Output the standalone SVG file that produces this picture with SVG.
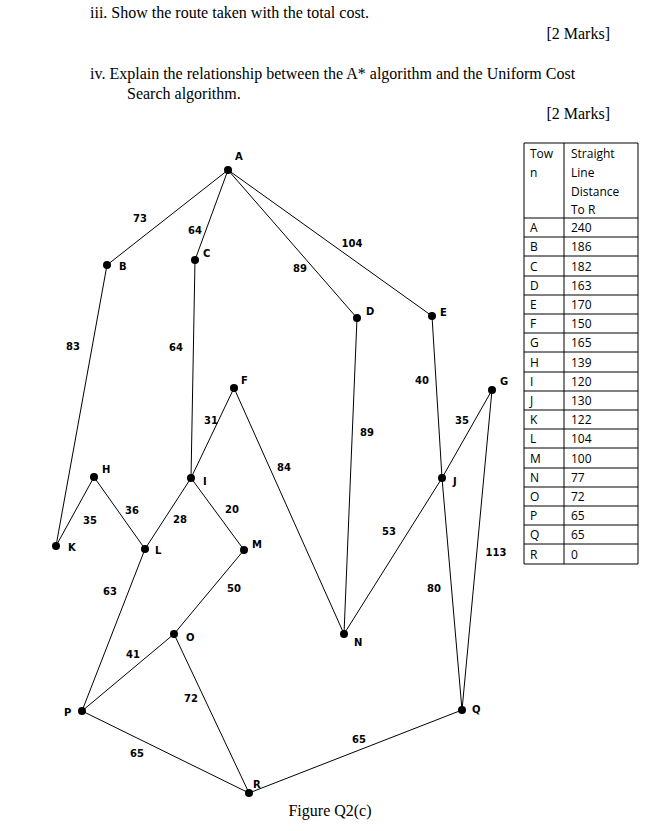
<svg xmlns="http://www.w3.org/2000/svg" width="648" height="831" viewBox="0 0 648 831">
<style>
.t{font-family:"Liberation Serif",serif;font-size:16px;fill:#000}
.n{font-family:"DejaVu Sans",sans-serif;font-size:10px;font-weight:bold;fill:#000}
.w{font-family:"DejaVu Sans",sans-serif;font-size:10px;font-weight:bold;fill:#000;text-anchor:middle}
.c{font-family:"Open Sans","DejaVu Sans",sans-serif;font-size:12px;fill:#000}
#edges line{stroke:#000;stroke-width:1}
.g line{stroke:#000;stroke-width:1}
</style>
<rect width="648" height="831" fill="#fff"/>
<text class="t" x="90" y="18">iii.  Show the route taken with the total cost.</text>
<text class="t" x="610" y="39" text-anchor="end">[2 Marks]</text>
<text class="t" x="90" y="79">iv.  Explain the relationship between the A* algorithm and the Uniform Cost</text>
<text class="t" x="127" y="99">Search algorithm.</text>
<text class="t" x="610" y="119" text-anchor="end">[2 Marks]</text>
<text class="t" x="330" y="816" text-anchor="middle">Figure Q2(c)</text>
<g id="edges">
<line x1="228" y1="170" x2="107" y2="265"/>
<line x1="228" y1="170" x2="195" y2="260"/>
<line x1="228" y1="170" x2="357" y2="318"/>
<line x1="228" y1="170" x2="432" y2="316"/>
<line x1="107" y1="265" x2="56" y2="546"/>
<line x1="195" y1="260" x2="191" y2="478"/>
<line x1="234" y1="388" x2="191" y2="478"/>
<line x1="234" y1="388" x2="344" y2="634"/>
<line x1="357" y1="318" x2="344" y2="634"/>
<line x1="432" y1="316" x2="442" y2="478"/>
<line x1="442" y1="478" x2="462" y2="710"/>
<line x1="492" y1="390" x2="442" y2="478"/>
<line x1="492" y1="390" x2="462" y2="710"/>
<line x1="442" y1="478" x2="344" y2="634"/>
<line x1="94" y1="477" x2="56" y2="546"/>
<line x1="94" y1="477" x2="145" y2="549"/>
<line x1="191" y1="478" x2="145" y2="549"/>
<line x1="191" y1="478" x2="244" y2="550"/>
<line x1="244" y1="550" x2="174" y2="634"/>
<line x1="145" y1="549" x2="82" y2="711"/>
<line x1="174" y1="634" x2="82" y2="711"/>
<line x1="174" y1="634" x2="249" y2="793"/>
<line x1="82" y1="711" x2="249" y2="793"/>
<line x1="462" y1="710" x2="249" y2="793"/>
</g>
<g id="weights">
<text class="w" x="140" y="222">73</text>
<text class="w" x="195" y="234">64</text>
<text class="w" x="300" y="272">89</text>
<text class="w" x="352" y="247">104</text>
<text class="w" x="73" y="350">83</text>
<text class="w" x="176" y="351">64</text>
<text class="w" x="211" y="424">31</text>
<text class="w" x="284" y="471">84</text>
<text class="w" x="367" y="436">89</text>
<text class="w" x="422" y="384">40</text>
<text class="w" x="462" y="424">35</text>
<text class="w" x="389" y="535">53</text>
<text class="w" x="434" y="592">80</text>
<text class="w" x="496" y="556">113</text>
<text class="w" x="90" y="524">35</text>
<text class="w" x="132" y="514">36</text>
<text class="w" x="180" y="523">28</text>
<text class="w" x="232" y="513">20</text>
<text class="w" x="110" y="595">63</text>
<text class="w" x="234" y="592">50</text>
<text class="w" x="133" y="658">41</text>
<text class="w" x="191" y="702">72</text>
<text class="w" x="137" y="757">65</text>
<text class="w" x="359" y="743">65</text>
</g>
<g id="A"><circle cx="228" cy="170" r="4"/><text class="n" x="235" y="160">A</text></g>
<g id="B"><circle cx="107" cy="265" r="4"/><text class="n" x="119" y="270">B</text></g>
<g id="C"><circle cx="195" cy="260" r="4"/><text class="n" x="203" y="257">C</text></g>
<g id="D"><circle cx="357" cy="318" r="4"/><text class="n" x="366" y="315">D</text></g>
<g id="E"><circle cx="432" cy="316" r="4"/><text class="n" x="440" y="316">E</text></g>
<g id="F"><circle cx="234" cy="388" r="4"/><text class="n" x="241" y="384">F</text></g>
<g id="G"><circle cx="492" cy="390" r="4"/><text class="n" x="500" y="385">G</text></g>
<g id="H"><circle cx="94" cy="477" r="4"/><text class="n" x="102" y="473">H</text></g>
<g id="I"><circle cx="191" cy="478" r="4"/><text class="n" x="203" y="485">I</text></g>
<g id="J"><circle cx="442" cy="478" r="4"/><text class="n" x="453" y="485">J</text></g>
<g id="K"><circle cx="56" cy="546" r="4"/><text class="n" x="68" y="551">K</text></g>
<g id="L"><circle cx="145" cy="549" r="4"/><text class="n" x="155" y="554">L</text></g>
<g id="M"><circle cx="244" cy="550" r="4"/><text class="n" x="252" y="548">M</text></g>
<g id="N"><circle cx="344" cy="634" r="4"/><text class="n" x="354" y="646">N</text></g>
<g id="O"><circle cx="174" cy="634" r="4"/><text class="n" x="186" y="641">O</text></g>
<g id="P"><circle cx="82" cy="711" r="4"/><text class="n" x="64" y="716">P</text></g>
<g id="Q"><circle cx="462" cy="710" r="4"/><text class="n" x="472" y="713">Q</text></g>
<g id="R"><circle cx="249" cy="793" r="4"/><text class="n" x="253" y="788">R</text></g>
<g id="table" class="g">
<line x1="524" y1="143" x2="524" y2="564"/>
<line x1="564" y1="143" x2="564" y2="564"/>
<line x1="638" y1="143" x2="638" y2="564"/>
<line x1="524" y1="143" x2="638" y2="143"/>
<line x1="524" y1="218" x2="638" y2="218"/>
<line x1="524" y1="237" x2="638" y2="237"/>
<line x1="524" y1="256" x2="638" y2="256"/>
<line x1="524" y1="276" x2="638" y2="276"/>
<line x1="524" y1="295" x2="638" y2="295"/>
<line x1="524" y1="314" x2="638" y2="314"/>
<line x1="524" y1="333" x2="638" y2="333"/>
<line x1="524" y1="352" x2="638" y2="352"/>
<line x1="524" y1="372" x2="638" y2="372"/>
<line x1="524" y1="391" x2="638" y2="391"/>
<line x1="524" y1="410" x2="638" y2="410"/>
<line x1="524" y1="429" x2="638" y2="429"/>
<line x1="524" y1="448" x2="638" y2="448"/>
<line x1="524" y1="468" x2="638" y2="468"/>
<line x1="524" y1="487" x2="638" y2="487"/>
<line x1="524" y1="506" x2="638" y2="506"/>
<line x1="524" y1="525" x2="638" y2="525"/>
<line x1="524" y1="544" x2="638" y2="544"/>
<line x1="524" y1="564" x2="638" y2="564"/>
<text class="c" x="530" y="158">Tow</text><text class="c" x="530" y="177">n</text>
<text class="c" x="571" y="158">Straight</text><text class="c" x="571" y="177">Line</text>
<text class="c" x="571" y="196">Distance</text><text class="c" x="571" y="214">To R</text>
<text class="c" x="530" y="232">A</text><text class="c" x="571" y="232">240</text>
<text class="c" x="530" y="251">B</text><text class="c" x="571" y="251">186</text>
<text class="c" x="530" y="271">C</text><text class="c" x="571" y="271">182</text>
<text class="c" x="530" y="290">D</text><text class="c" x="571" y="290">163</text>
<text class="c" x="530" y="309">E</text><text class="c" x="571" y="309">170</text>
<text class="c" x="530" y="328">F</text><text class="c" x="571" y="328">150</text>
<text class="c" x="530" y="347">G</text><text class="c" x="571" y="347">165</text>
<text class="c" x="530" y="367">H</text><text class="c" x="571" y="367">139</text>
<text class="c" x="530" y="386">I</text><text class="c" x="571" y="386">120</text>
<text class="c" x="530" y="405">J</text><text class="c" x="571" y="405">130</text>
<text class="c" x="530" y="424">K</text><text class="c" x="571" y="424">122</text>
<text class="c" x="530" y="443">L</text><text class="c" x="571" y="443">104</text>
<text class="c" x="530" y="463">M</text><text class="c" x="571" y="463">100</text>
<text class="c" x="530" y="482">N</text><text class="c" x="571" y="482">77</text>
<text class="c" x="530" y="501">O</text><text class="c" x="571" y="501">72</text>
<text class="c" x="530" y="520">P</text><text class="c" x="571" y="520">65</text>
<text class="c" x="530" y="539">Q</text><text class="c" x="571" y="539">65</text>
<text class="c" x="530" y="559">R</text><text class="c" x="571" y="559">0</text>
</g>
</svg>
